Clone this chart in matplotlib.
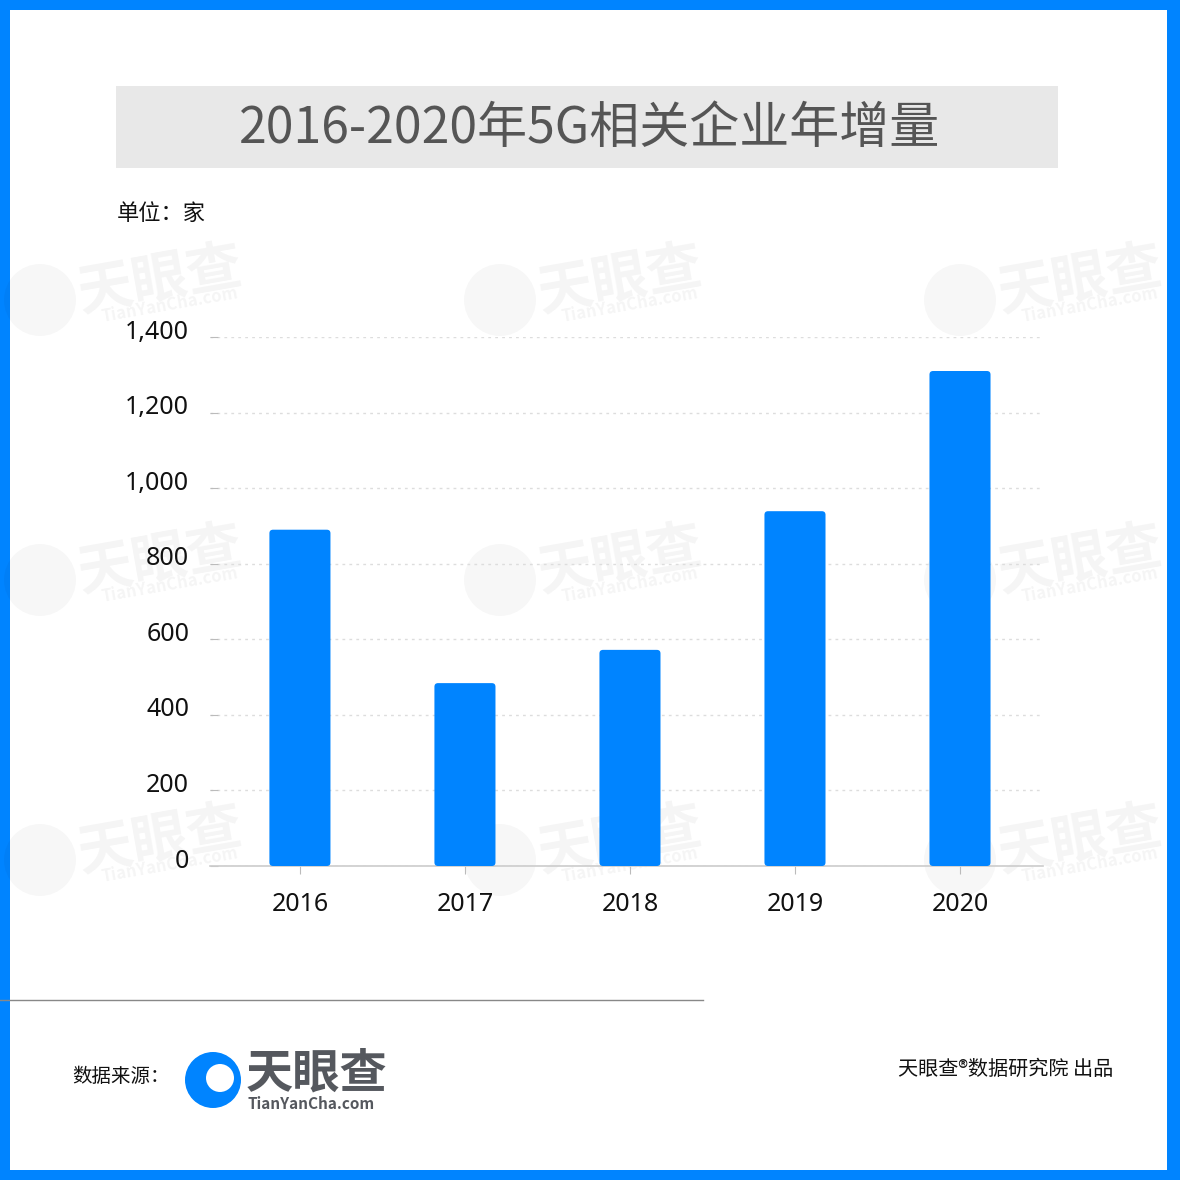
import matplotlib
matplotlib.use("Agg")
import matplotlib.pyplot as plt
from matplotlib.patches import Rectangle, Circle, FancyBboxPatch
from matplotlib.transforms import ScaledTranslation

plt.rcParams['font.family'] = ['Noto Sans CJK SC', 'DejaVu Sans']

years = ['2016', '2017', '2018', '2019', '2020']
counts = [890, 484, 572, 939, 1310]
yticks = [0, 200, 400, 600, 800, 1000, 1200, 1400]

title = '2016-2020年5G相关企业年增量'
unit = '单位：家'
source = '数据来源：'
credit = '天眼查®数据研究院 出品'

W = 1180.0
blue = '#0084FF'

fig = plt.figure(figsize=(11.8, 11.8), dpi=100)

def fx(px):
    return px / W

def fy(py):
    return 1 - py / W

# blue frame
fig.patches.append(Rectangle((0, 0), 1, 1, transform=fig.transFigure,
                             facecolor=blue, edgecolor='none', zorder=0))
fig.patches.append(Rectangle((fx(10), fy(1170)), fx(1167 - 10), (1170 - 10) / W,
                             transform=fig.transFigure, facecolor='white',
                             edgecolor='none', zorder=0))

# watermarks
for wx in [160, 620, 1080]:
    for wy in [280, 560, 840]:
        fig.text(fx(wx), fy(wy), '天眼查', fontsize=40, fontweight='bold',
                 color='#000000', alpha=0.045, rotation=10,
                 ha='center', va='center', zorder=1)
        fig.text(fx(wx + 10), fy(wy + 25), 'TianYanCha.com', fontsize=12,
                 fontweight='bold', color='#000000', alpha=0.045, rotation=10,
                 ha='center', va='center', zorder=1)
        fig.patches.append(Circle((fx(wx - 120), fy(wy + 20)), 36 / W,
                                  transform=fig.transFigure, facecolor='#000000',
                                  alpha=0.03, edgecolor='none', zorder=1))

# title box
fig.patches.append(Rectangle((fx(116), fy(168)), fx(1058 - 116), 82 / W,
                             transform=fig.transFigure, facecolor='#E8E8E8',
                             edgecolor='none', zorder=1))
fig.text(fx(590), fy(129), title, fontsize=36, color='#555555',
         ha='center', va='center', zorder=2)

fig.text(fx(117), fy(213), unit, fontsize=16, color='#111111',
         ha='left', va='center', fontweight='medium')

# chart
ax = fig.add_axes([fx(210), fy(866), fx(1043 - 210), (866 - 337) / W])
ax.set_zorder(2)
ax.set_facecolor('none')
x = list(range(len(years)))
bars = ax.bar(x, counts, width=0.37, color=blue, zorder=3)
ax.set_xlim(-0.545, 4.503)
ax.set_ylim(0, 1400)

# rounded corners on bars
for b in bars:
    b.set_visible(False)
    rb = FancyBboxPatch((b.get_x(), b.get_y()), b.get_width(), b.get_height(),
                        boxstyle='round,pad=0,rounding_size=0.022',
                        mutation_aspect=430, facecolor=blue,
                        edgecolor='none', zorder=3)
    ax.add_patch(rb)

num_font = ['Noto Sans', 'DejaVu Sans']
ax.set_xticks(x)
ax.set_xticklabels(years, family=num_font)
ax.set_yticks(yticks)
ax.set_yticklabels([f'{v:,}' for v in yticks], family=num_font)
ax.tick_params(axis='x', length=6, color='#BBBBBB', labelsize=18,
               labelcolor='#111111', pad=13)
ax.tick_params(axis='y', direction='in', length=6, color='#BBBBBB',
               labelsize=18, labelcolor='#111111', pad=15)
# y labels sit a bit above their grid lines
shift = ScaledTranslation(0, 0.08, fig.dpi_scale_trans)
for lab in ax.get_yticklabels():
    lab.set_transform(lab.get_transform() + shift)
ax.grid(axis='y', color='#DDDDDD', linestyle=(0, (2, 3)), linewidth=1, zorder=0)
for s in ['top', 'right', 'left']:
    ax.spines[s].set_visible(False)
ax.spines['bottom'].set_color('#CCCCCC')
ax.spines['bottom'].set_linewidth(1.2)

# separator
fig.add_artist(plt.Line2D([0, fx(703)], [fy(1000), fy(1000)],
                          transform=fig.transFigure, color='#888888', lw=1))

# footer
fig.text(fx(72), fy(1077), source, fontsize=14, color='#111111',
         ha='left', va='center')
fig.patches.append(Circle((fx(213), fy(1080)), 28 / W, transform=fig.transFigure,
                          facecolor=blue, edgecolor='none', zorder=2))
fig.patches.append(Circle((fx(220), fy(1078)), 14 / W, transform=fig.transFigure,
                          facecolor='white', edgecolor='none', zorder=3))
fig.text(fx(246), fy(1074), '天眼查', fontsize=34, fontweight='bold',
         color='#55585E', ha='left', va='center')
fig.text(fx(248), fy(1104), 'TianYanCha.com', fontsize=11, fontweight='bold',
         color='#55585E', ha='left', va='center')

fig.text(fx(1113), fy(1069), credit, fontsize=14.5, color='#111111',
         ha='right', va='center')

fig.savefig('out.png', dpi=100)
